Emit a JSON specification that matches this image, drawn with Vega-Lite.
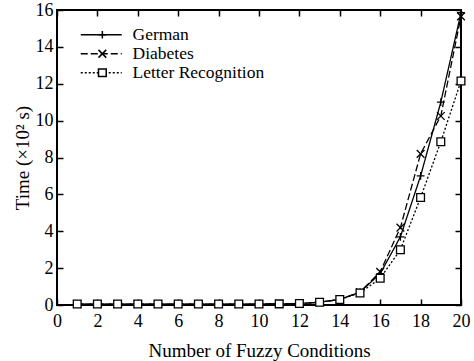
{
  "$schema": "https://vega.github.io/schema/vega-lite/v6.json",
  "width": 404,
  "height": 295,
  "autosize": {"type": "none"},
  "padding": {"left": 57, "top": 10, "right": 13, "bottom": 56},
  "background": "white",
  "config": {
    "font": "Liberation Serif",
    "view": {"stroke": "#000000", "strokeWidth": 2},
    "axis": {
      "labelFont": "Liberation Serif",
      "titleFont": "Liberation Serif",
      "labelFontSize": 18,
      "titleFontSize": 19,
      "titleFontWeight": "normal",
      "labelColor": "#000000",
      "titleColor": "#000000",
      "grid": false,
      "domain": false,
      "tickColor": "#000000",
      "tickWidth": 1.5,
      "tickSize": -6
    },
    "legend": {
      "labelFont": "Liberation Serif",
      "labelFontSize": 17.5,
      "labelColor": "#000000"
    }
  },
  "data": {
    "values": [
      {"n": 1, "series": "German", "t": 0.05},
      {"n": 2, "series": "German", "t": 0.05},
      {"n": 3, "series": "German", "t": 0.05},
      {"n": 4, "series": "German", "t": 0.05},
      {"n": 5, "series": "German", "t": 0.05},
      {"n": 6, "series": "German", "t": 0.05},
      {"n": 7, "series": "German", "t": 0.05},
      {"n": 8, "series": "German", "t": 0.05},
      {"n": 9, "series": "German", "t": 0.05},
      {"n": 10, "series": "German", "t": 0.05},
      {"n": 11, "series": "German", "t": 0.06},
      {"n": 12, "series": "German", "t": 0.08},
      {"n": 13, "series": "German", "t": 0.15},
      {"n": 14, "series": "German", "t": 0.3},
      {"n": 15, "series": "German", "t": 0.7},
      {"n": 16, "series": "German", "t": 1.7},
      {"n": 17, "series": "German", "t": 3.7},
      {"n": 18, "series": "German", "t": 7.0},
      {"n": 19, "series": "German", "t": 11.0},
      {"n": 20, "series": "German", "t": 15.85},
      {"n": 1, "series": "Diabetes", "t": 0.05},
      {"n": 2, "series": "Diabetes", "t": 0.05},
      {"n": 3, "series": "Diabetes", "t": 0.05},
      {"n": 4, "series": "Diabetes", "t": 0.05},
      {"n": 5, "series": "Diabetes", "t": 0.05},
      {"n": 6, "series": "Diabetes", "t": 0.05},
      {"n": 7, "series": "Diabetes", "t": 0.05},
      {"n": 8, "series": "Diabetes", "t": 0.05},
      {"n": 9, "series": "Diabetes", "t": 0.05},
      {"n": 10, "series": "Diabetes", "t": 0.05},
      {"n": 11, "series": "Diabetes", "t": 0.06},
      {"n": 12, "series": "Diabetes", "t": 0.08},
      {"n": 13, "series": "Diabetes", "t": 0.15},
      {"n": 14, "series": "Diabetes", "t": 0.3},
      {"n": 15, "series": "Diabetes", "t": 0.7},
      {"n": 16, "series": "Diabetes", "t": 1.8},
      {"n": 17, "series": "Diabetes", "t": 4.2},
      {"n": 18, "series": "Diabetes", "t": 8.2},
      {"n": 19, "series": "Diabetes", "t": 10.25},
      {"n": 20, "series": "Diabetes", "t": 15.65},
      {"n": 1, "series": "Letter Recognition", "t": 0.05},
      {"n": 2, "series": "Letter Recognition", "t": 0.05},
      {"n": 3, "series": "Letter Recognition", "t": 0.05},
      {"n": 4, "series": "Letter Recognition", "t": 0.05},
      {"n": 5, "series": "Letter Recognition", "t": 0.05},
      {"n": 6, "series": "Letter Recognition", "t": 0.05},
      {"n": 7, "series": "Letter Recognition", "t": 0.05},
      {"n": 8, "series": "Letter Recognition", "t": 0.05},
      {"n": 9, "series": "Letter Recognition", "t": 0.05},
      {"n": 10, "series": "Letter Recognition", "t": 0.05},
      {"n": 11, "series": "Letter Recognition", "t": 0.06},
      {"n": 12, "series": "Letter Recognition", "t": 0.08},
      {"n": 13, "series": "Letter Recognition", "t": 0.15},
      {"n": 14, "series": "Letter Recognition", "t": 0.3},
      {"n": 15, "series": "Letter Recognition", "t": 0.65},
      {"n": 16, "series": "Letter Recognition", "t": 1.45},
      {"n": 17, "series": "Letter Recognition", "t": 3.0},
      {"n": 18, "series": "Letter Recognition", "t": 5.83},
      {"n": 19, "series": "Letter Recognition", "t": 8.85},
      {"n": 20, "series": "Letter Recognition", "t": 12.15}
    ]
  },
  "layer": [
    {
      "mark": {"type": "line", "color": "#000000", "strokeWidth": 1.3},
      "encoding": {
        "x": {
          "field": "n", "type": "quantitative",
          "scale": {"domain": [0, 20], "nice": false},
          "axis": {"orient": "bottom", "values": [0, 2, 4, 6, 8, 10, 12, 14, 16, 18, 20], "title": "Number of Fuzzy Conditions", "labelPadding": 13, "titlePadding": 11, "labelFlush": false}
        },
        "y": {
          "field": "t", "type": "quantitative",
          "scale": {"domain": [0, 16], "nice": false},
          "axis": {"orient": "left", "values": [0, 2, 4, 6, 8, 10, 12, 14, 16], "title": "Time (×10² s)", "labelPadding": 10, "titlePadding": 3, "labelFlush": false}
        },
        "strokeDash": {
          "field": "series", "type": "nominal",
          "scale": {"domain": ["German", "Diabetes", "Letter Recognition"], "range": [[1, 0], [7, 3], [2, 2]]},
          "legend": {
            "title": null, "orient": "none", "legendX": 35.5, "legendY": 16,
            "symbolType": "M-4.1,0H4.1", "symbolSize": 100, "symbolStrokeColor": "#000000",
            "symbolStrokeWidth": 1.3, "symbolOpacity": 1, "rowPadding": 0, "labelOffset": 22.5, "padding": 0
          }
        }
      }
    },
    {
      "mark": {"type": "point", "stroke": "#000000", "fill": "white", "opacity": 1, "strokeWidth": 1.3, "size": 60},
      "encoding": {
        "x": {
          "field": "n", "type": "quantitative",
          "axis": {"orient": "top", "values": [0, 2, 4, 6, 8, 10, 12, 14, 16, 18, 20], "labels": false, "title": null}
        },
        "y": {
          "field": "t", "type": "quantitative",
          "axis": {"orient": "right", "values": [0, 2, 4, 6, 8, 10, 12, 14, 16], "labels": false, "title": null}
        },
        "shape": {
          "field": "series", "type": "nominal",
          "scale": {"domain": ["German", "Diabetes", "Letter Recognition"], "range": ["M-1,0H1M0,-1V1", "M-1,-1L1,1M-1,1L1,-1", "square"]},
          "legend": {
            "title": null, "orient": "none", "legendX": 36.6, "legendY": 16,
            "symbolSize": 60, "symbolOpacity": 1, "rowPadding": 0, "padding": 0, "labelExpr": "''"
          }
        }
      }
    }
  ],
  "resolve": {
    "axis": {"x": "independent", "y": "independent"},
    "legend": {"strokeDash": "independent", "shape": "independent"}
  }
}
